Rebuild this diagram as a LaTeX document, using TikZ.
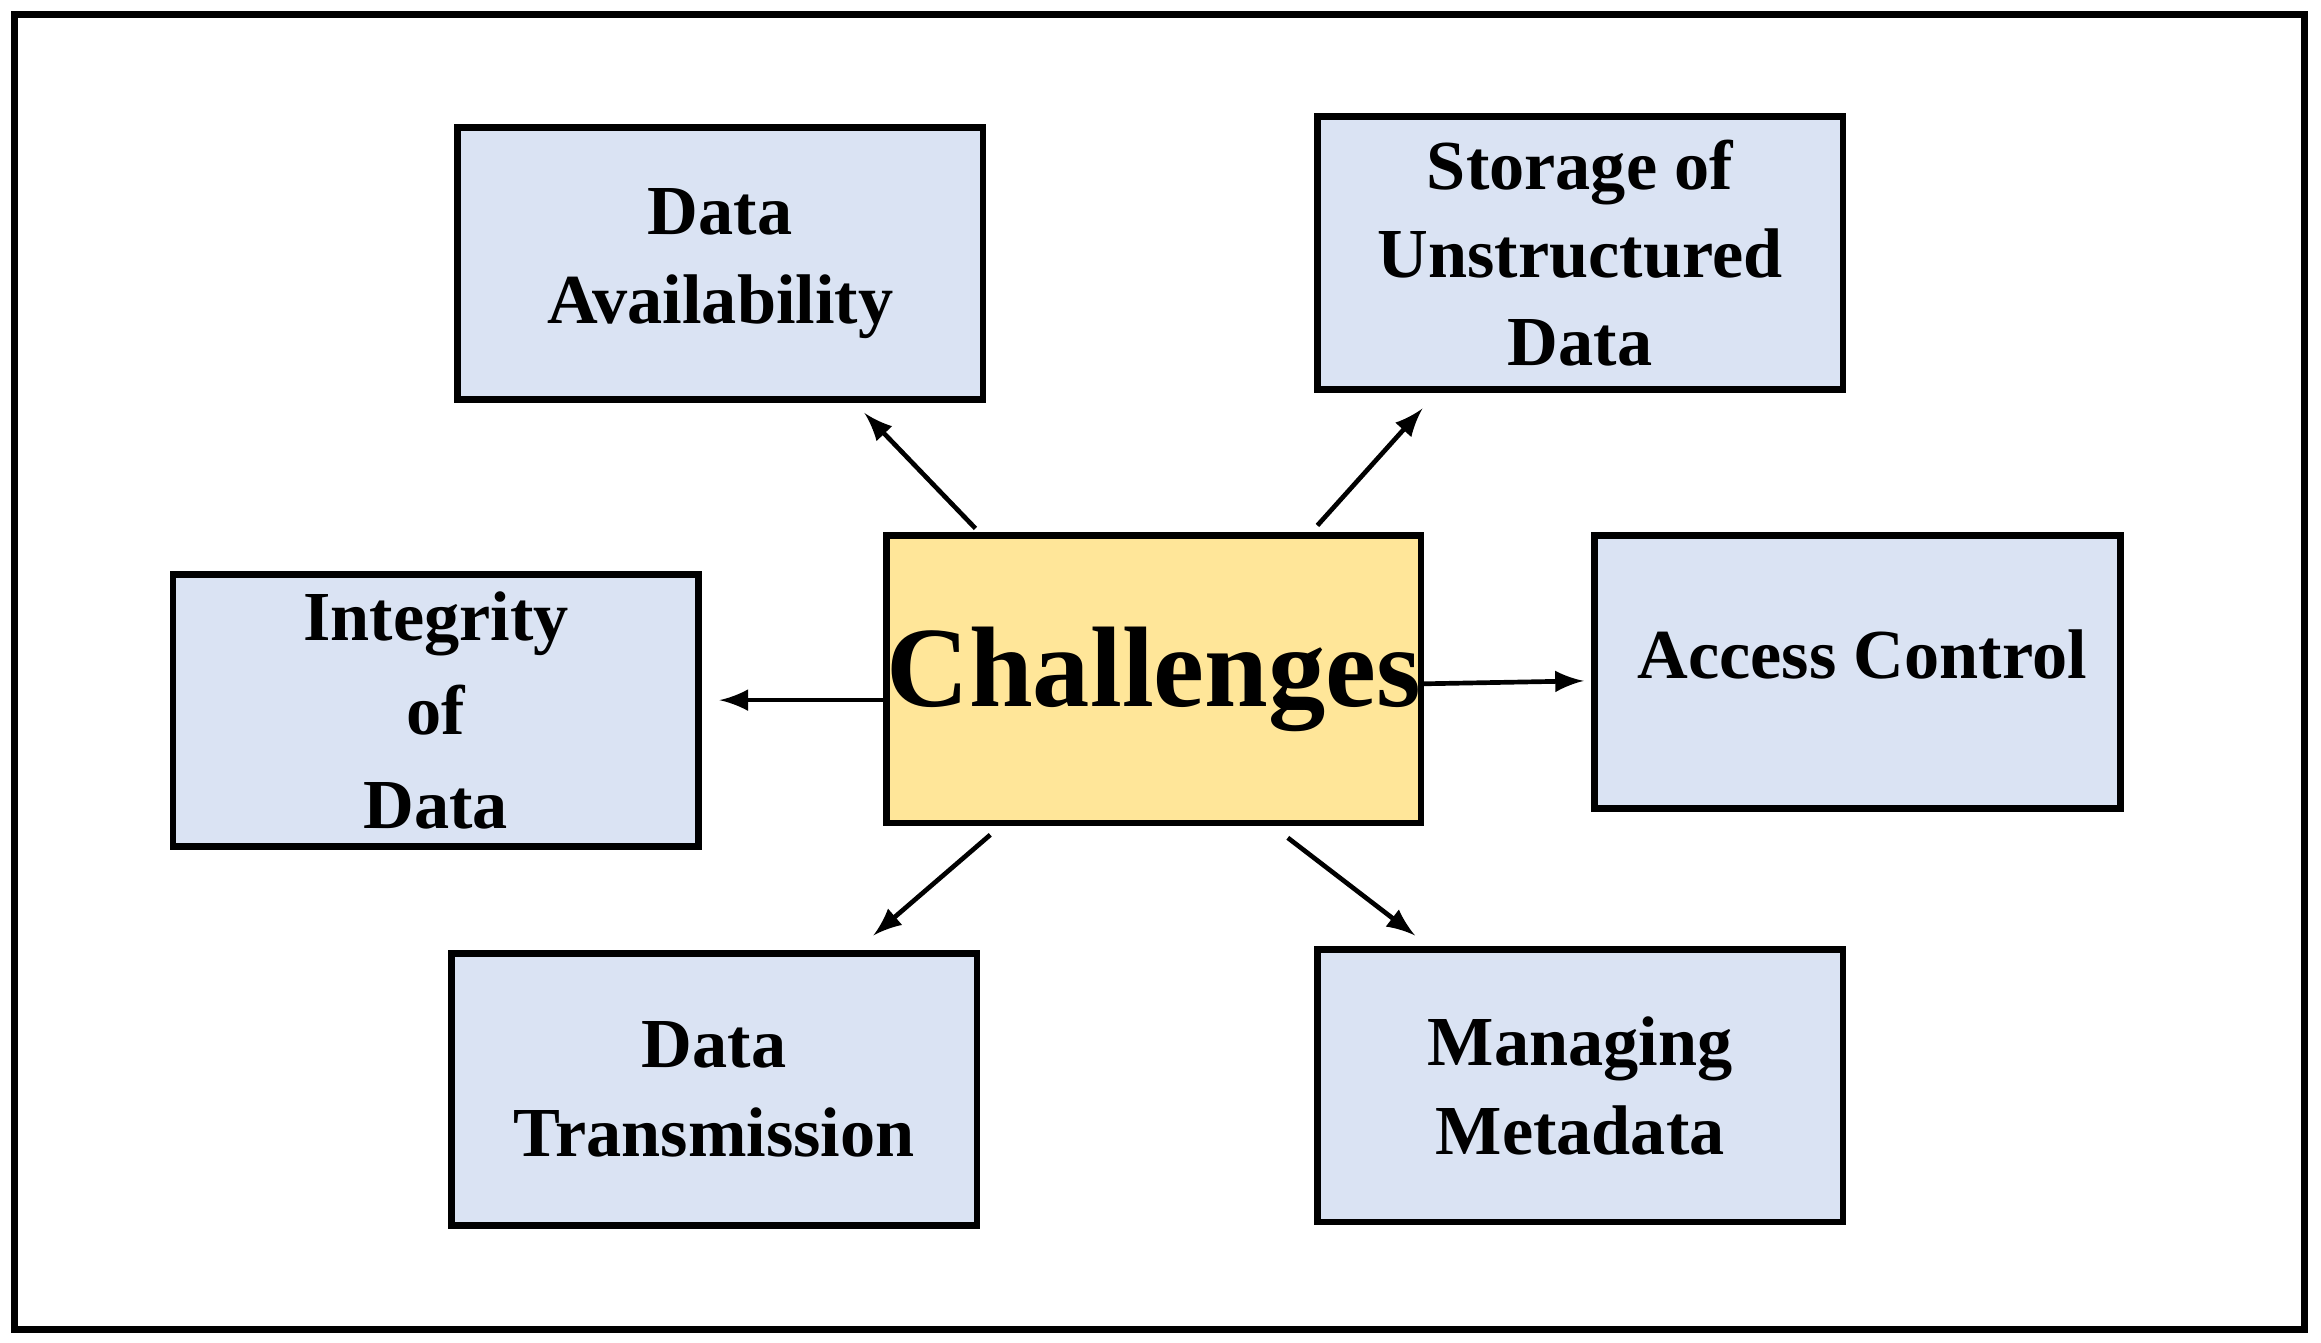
\documentclass[tikz,border=0pt]{standalone}
\usepackage{fontspec}
\setmainfont{Liberation Serif}
\begin{document}
\begin{tikzpicture}[x=0.01cm,y=-0.01cm,
  box/.style={draw=black,line width=1.3pt,fill=blue!8!cyan!2!white,fill=boxblue,minimum width=3.55cm,minimum height=1.84cm,inner sep=0pt,align=center,font=\fontsize{13.5}{17}\selectfont\bfseries},
  arr/.style={-latex,line width=0.9pt}]
\definecolor{boxblue}{HTML}{DAE3F3}
\definecolor{chall}{HTML}{FFE699}
\useasboundingbox (0,0) rectangle (1568,907);
\draw[line width=1.3pt] (10,10) rectangle (1557,898);
\node[box] (avail) at (486.5,178) {Data\\Availability};
\node[box] (stor) at (1067.5,171) {Storage of\\Unstructured\\Data};
\node[box,font=\fontsize{13.5}{18}\selectfont\bfseries] (integ) at (294.5,480) {Integrity\\of\\Data};
\node[box,fill=chall,minimum width=3.53cm,minimum height=1.94cm,font=\fontsize{22}{26}\selectfont\bfseries] (chal) at (779.5,459) {Challenges};
\node[box] (acc) at (1255,454) {};
\node[font=\fontsize{13.5}{17}\selectfont\bfseries] (acct) at (1258,442) {Access Control};
\node[box] (trans) at (482.5,736) {Data\\Transmission};
\node[box] (meta) at (1067.5,733.5) {Managing\\Metadata};
\coordinate (a1) at (659,357); \coordinate (b1) at (584,279);
\coordinate (a2) at (890,355); \coordinate (b2) at (961,276);
\coordinate (a3) at (598,473); \coordinate (b3) at (486,473);
\coordinate (a4) at (960,462); \coordinate (b4) at (1070,460);
\coordinate (a5) at (669,564); \coordinate (b5) at (590,632);
\coordinate (a6) at (870,566); \coordinate (b6) at (956,632);
\foreach \i in {1,...,6} \draw[arr] (a\i) -- (b\i);
\end{tikzpicture}
\end{document}
